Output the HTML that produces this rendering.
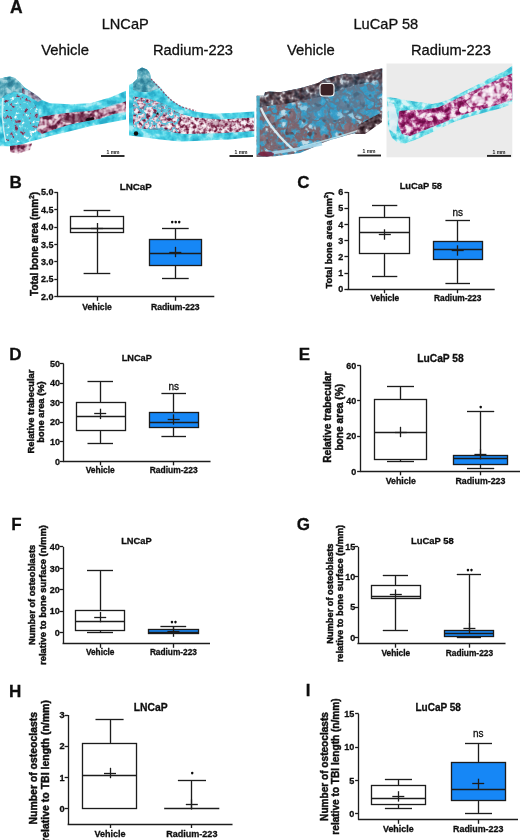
<!DOCTYPE html>
<html><head><meta charset="utf-8"><title>Figure</title>
<style>html,body{margin:0;padding:0;background:#fff;} svg{display:block;}</style>
</head><body>
<svg width="520" height="840" viewBox="0 0 520 840" font-family="Liberation Sans, Arial, sans-serif" fill="#111"><text x="9.90" y="13.10" font-size="17.5" font-weight="bold" text-anchor="start" stroke="#111" stroke-width="0.3" >A</text>
<text x="101.70" y="28.50" font-size="14.6" font-weight="normal" text-anchor="start" stroke="#111" stroke-width="0.3" >LNCaP</text>
<text x="353.50" y="28.50" font-size="14.6" font-weight="normal" text-anchor="start" stroke="#111" stroke-width="0.3" >LuCaP 58</text>
<text x="41.30" y="54.50" font-size="14.8" font-weight="normal" text-anchor="start" stroke="#111" stroke-width="0.3" >Vehicle</text>
<text x="153.00" y="54.50" font-size="14.7" font-weight="normal" text-anchor="start" stroke="#111" stroke-width="0.3" >Radium-223</text>
<text x="287.00" y="54.50" font-size="14.8" font-weight="normal" text-anchor="start" stroke="#111" stroke-width="0.3" >Vehicle</text>
<text x="411.00" y="54.50" font-size="14.7" font-weight="normal" text-anchor="start" stroke="#111" stroke-width="0.3" >Radium-223</text>
<defs><filter id="sb" x="-5%" y="-5%" width="110%" height="110%"><feGaussianBlur stdDeviation="0.6"/></filter><filter id="bl4" x="-30%" y="-50%" width="160%" height="200%"><feGaussianBlur stdDeviation="5"/></filter><filter id="n2c" x="0" y="0" width="100%" height="100%" color-interpolation-filters="sRGB"><feTurbulence type="fractalNoise" baseFrequency="0.13" numOctaves="3" seed="51" result="n"/><feColorMatrix in="n" type="matrix" values="0 0 0 0 0.282  0 0 0 0 0.769  0 0 0 0 0.863  1 0 0 0 0" result="a"/><feComponentTransfer in="a" result="c"><feFuncA type="table" tableValues="0 0 0 0 0 0 0 0 0.2 0.7 1 0.7 0.2 0 0 0 0 0 0 0 0"/></feComponentTransfer><feComposite in="c" in2="SourceGraphic" operator="in"/></filter><filter id="fm4l" x="0" y="0" width="100%" height="100%" color-interpolation-filters="sRGB"><feTurbulence type="fractalNoise" baseFrequency="0.18" numOctaves="2" seed="44" result="n"/><feColorMatrix in="n" type="matrix" values="1 0 0 0 0  1 0 0 0 0  1 0 0 0 0  0 0 0 0 1" result="g"/><feComponentTransfer in="g" result="c"><feFuncR type="table" tableValues="0.604 0.604 0.604 0.604 0.604 0.671 0.769 0.838 0.902 0.932 0.960 0.977 0.988 0.988 0.988 0.988 0.988"/><feFuncG type="table" tableValues="0.165 0.165 0.165 0.165 0.165 0.301 0.501 0.655 0.800 0.855 0.908 0.946 0.973 0.973 0.973 0.973 0.973"/><feFuncB type="table" tableValues="0.416 0.416 0.416 0.416 0.416 0.517 0.666 0.776 0.878 0.913 0.945 0.966 0.980 0.980 0.980 0.980 0.980"/></feComponentTransfer><feComposite in="c" in2="SourceGraphic" operator="in"/></filter><filter id="n3" x="0" y="0" width="100%" height="100%" color-interpolation-filters="sRGB"><feTurbulence type="fractalNoise" baseFrequency="0.1" numOctaves="3" seed="31" result="n"/><feColorMatrix in="n" type="matrix" values="0 0 0 0 0.494  0 0 0 0 0.384  0 0 0 0 0.416  1 0 0 0 0" result="a"/><feComponentTransfer in="a" result="c"><feFuncA type="table" tableValues="0 0 0 0 0 0 0 0 0.35 0.85 1 0.85 0.35 0 0 0 0 0 0 0 0"/></feComponentTransfer><feComposite in="c" in2="SourceGraphic" operator="in"/></filter><filter id="n3b" x="0" y="0" width="100%" height="100%" color-interpolation-filters="sRGB"><feTurbulence type="fractalNoise" baseFrequency="0.13" numOctaves="2" seed="37" result="n"/><feColorMatrix in="n" type="matrix" values="0 0 0 0 0.369  0 0 0 0 0.275  0 0 0 0 0.306  1 0 0 0 0" result="a"/><feComponentTransfer in="a" result="c"><feFuncA type="table" tableValues="1 1 1 1 1 0.8 0.4 0 0 0 0 0 0 0 0 0 0 0 0 0 0"/></feComponentTransfer><feComposite in="c" in2="SourceGraphic" operator="in"/></filter><filter id="fepi" x="0" y="0" width="100%" height="100%" color-interpolation-filters="sRGB"><feTurbulence type="fractalNoise" baseFrequency="0.2" numOctaves="3" seed="21" result="n"/><feColorMatrix in="n" type="matrix" values="1 0 0 0 0  1 0 0 0 0  1 0 0 0 0  0 0 0 0 1" result="g"/><feComponentTransfer in="g" result="c"><feFuncR type="table" tableValues="0.416 0.416 0.416 0.416 0.486 0.559 0.332 0.302 0.298 0.313 0.374 0.637 0.884 1.000 1.000 1.000 1.000"/><feFuncG type="table" tableValues="0.165 0.165 0.165 0.165 0.235 0.419 0.750 0.782 0.784 0.793 0.822 0.895 0.966 1.000 1.000 1.000 1.000"/><feFuncB type="table" tableValues="0.290 0.290 0.290 0.290 0.361 0.538 0.839 0.868 0.871 0.875 0.890 0.933 0.978 1.000 1.000 1.000 1.000"/></feComponentTransfer><feComposite in="c" in2="SourceGraphic" operator="in"/></filter><filter id="fcy" x="0" y="0" width="100%" height="100%" color-interpolation-filters="sRGB"><feTurbulence type="fractalNoise" baseFrequency="0.12" numOctaves="3" seed="3" result="n"/><feColorMatrix in="n" type="matrix" values="1 0 0 0 0  1 0 0 0 0  1 0 0 0 0  0 0 0 0 1" result="g"/><feComponentTransfer in="g" result="c"><feFuncR type="table" tableValues="0.165 0.165 0.165 0.165 0.165 0.174 0.218 0.256 0.290 0.349 0.453 0.625 0.659 0.659 0.659 0.659 0.659"/><feFuncG type="table" tableValues="0.682 0.682 0.682 0.682 0.682 0.693 0.747 0.786 0.816 0.840 0.873 0.917 0.925 0.925 0.925 0.925 0.925"/><feFuncB type="table" tableValues="0.796 0.796 0.796 0.796 0.796 0.804 0.846 0.875 0.894 0.909 0.927 0.952 0.957 0.957 0.957 0.957 0.957"/></feComponentTransfer><feComposite in="c" in2="SourceGraphic" operator="in"/></filter><filter id="fcy4" x="0" y="0" width="100%" height="100%" color-interpolation-filters="sRGB"><feTurbulence type="fractalNoise" baseFrequency="0.15" numOctaves="3" seed="5" result="n"/><feColorMatrix in="n" type="matrix" values="1 0 0 0 0  1 0 0 0 0  1 0 0 0 0  0 0 0 0 1" result="g"/><feComponentTransfer in="g" result="c"><feFuncR type="table" tableValues="0.235 0.235 0.235 0.235 0.235 0.250 0.324 0.388 0.447 0.579 0.706 0.824 0.847 0.847 0.847 0.847 0.847"/><feFuncG type="table" tableValues="0.737 0.737 0.737 0.737 0.737 0.750 0.814 0.854 0.878 0.908 0.933 0.953 0.957 0.957 0.957 0.957 0.957"/><feFuncB type="table" tableValues="0.831 0.831 0.831 0.831 0.831 0.839 0.878 0.900 0.910 0.934 0.953 0.963 0.965 0.965 0.965 0.965 0.965"/></feComponentTransfer><feComposite in="c" in2="SourceGraphic" operator="in"/></filter><filter id="fdome" x="0" y="0" width="100%" height="100%" color-interpolation-filters="sRGB"><feTurbulence type="fractalNoise" baseFrequency="0.15" numOctaves="3" seed="9" result="n"/><feColorMatrix in="n" type="matrix" values="1 0 0 0 0  1 0 0 0 0  1 0 0 0 0  0 0 0 0 1" result="g"/><feComponentTransfer in="g" result="c"><feFuncR type="table" tableValues="0.184 0.184 0.184 0.184 0.184 0.194 0.241 0.288 0.344 0.400 0.494 0.602 0.659 0.659 0.659 0.659 0.659"/><feFuncG type="table" tableValues="0.498 0.498 0.498 0.498 0.498 0.509 0.561 0.614 0.654 0.695 0.746 0.802 0.831 0.831 0.831 0.831 0.831"/><feFuncB type="table" tableValues="0.596 0.596 0.596 0.596 0.596 0.605 0.651 0.696 0.728 0.760 0.801 0.847 0.871 0.871 0.871 0.871 0.871"/></feComponentTransfer><feComposite in="c" in2="SourceGraphic" operator="in"/></filter><filter id="fm1" x="0" y="0" width="100%" height="100%" color-interpolation-filters="sRGB"><feTurbulence type="fractalNoise" baseFrequency="0.2" numOctaves="2" seed="4" result="n"/><feColorMatrix in="n" type="matrix" values="1 0 0 0 0  1 0 0 0 0  1 0 0 0 0  0 0 0 0 1" result="g"/><feComponentTransfer in="g" result="c"><feFuncR type="table" tableValues="0.353 0.353 0.353 0.353 0.353 0.376 0.494 0.597 0.690 0.778 0.855 0.914 0.925 0.925 0.925 0.925 0.925"/><feFuncG type="table" tableValues="0.102 0.102 0.102 0.102 0.102 0.120 0.208 0.328 0.471 0.608 0.733 0.841 0.863 0.863 0.863 0.863 0.863"/><feFuncB type="table" tableValues="0.220 0.220 0.220 0.220 0.220 0.239 0.337 0.450 0.573 0.690 0.794 0.877 0.894 0.894 0.894 0.894 0.894"/></feComponentTransfer><feComposite in="c" in2="SourceGraphic" operator="in"/></filter><filter id="fm2" x="0" y="0" width="100%" height="100%" color-interpolation-filters="sRGB"><feTurbulence type="fractalNoise" baseFrequency="0.28" numOctaves="2" seed="6" result="n"/><feColorMatrix in="n" type="matrix" values="1 0 0 0 0  1 0 0 0 0  1 0 0 0 0  0 0 0 0 1" result="g"/><feComponentTransfer in="g" result="c"><feFuncR type="table" tableValues="0.416 0.416 0.416 0.416 0.416 0.494 0.586 0.699 0.804 0.895 0.939 0.969 0.988 0.988 0.988 0.988 0.988"/><feFuncG type="table" tableValues="0.110 0.110 0.110 0.110 0.110 0.183 0.296 0.468 0.643 0.801 0.884 0.938 0.973 0.973 0.973 0.973 0.973"/><feFuncB type="table" tableValues="0.235 0.235 0.235 0.235 0.235 0.309 0.414 0.566 0.714 0.845 0.914 0.956 0.980 0.980 0.980 0.980 0.980"/></feComponentTransfer><feComposite in="c" in2="SourceGraphic" operator="in"/></filter><filter id="fm3" x="0" y="0" width="100%" height="100%" color-interpolation-filters="sRGB"><feTurbulence type="fractalNoise" baseFrequency="0.09" numOctaves="4" seed="8" result="n"/><feColorMatrix in="n" type="matrix" values="1 0 0 0 0  1 0 0 0 0  1 0 0 0 0  0 0 0 0 1" result="g"/><feComponentTransfer in="g" result="c"><feFuncR type="table" tableValues="0.549 0.549 0.549 0.549 0.549 0.520 0.357 0.218 0.231 0.277 0.425 0.695 0.753 0.753 0.753 0.753 0.753"/><feFuncG type="table" tableValues="0.439 0.439 0.439 0.439 0.439 0.475 0.606 0.599 0.608 0.654 0.704 0.832 0.863 0.863 0.863 0.863 0.863"/><feFuncB type="table" tableValues="0.471 0.471 0.471 0.471 0.471 0.522 0.725 0.762 0.769 0.803 0.826 0.893 0.910 0.910 0.910 0.910 0.910"/></feComponentTransfer><feComposite in="c" in2="SourceGraphic" operator="in"/></filter><filter id="fm3t" x="0" y="0" width="100%" height="100%" color-interpolation-filters="sRGB"><feTurbulence type="fractalNoise" baseFrequency="0.2" numOctaves="2" seed="12" result="n"/><feColorMatrix in="n" type="matrix" values="1 0 0 0 0  1 0 0 0 0  1 0 0 0 0  0 0 0 0 1" result="g"/><feComponentTransfer in="g" result="c"><feFuncR type="table" tableValues="0.141 0.141 0.141 0.141 0.141 0.195 0.247 0.296 0.353 0.418 0.506 0.668 0.878 0.878 0.878 0.878 0.878"/><feFuncG type="table" tableValues="0.086 0.086 0.086 0.086 0.086 0.125 0.169 0.218 0.275 0.341 0.439 0.620 0.855 0.855 0.855 0.855 0.855"/><feFuncB type="table" tableValues="0.110 0.110 0.110 0.110 0.110 0.154 0.200 0.249 0.306 0.372 0.465 0.637 0.863 0.863 0.863 0.863 0.863"/></feComponentTransfer><feComposite in="c" in2="SourceGraphic" operator="in"/></filter><filter id="fm4" x="0" y="0" width="100%" height="100%" color-interpolation-filters="sRGB"><feTurbulence type="fractalNoise" baseFrequency="0.16" numOctaves="3" seed="14" result="n"/><feColorMatrix in="n" type="matrix" values="1 0 0 0 0  1 0 0 0 0  1 0 0 0 0  0 0 0 0 1" result="g"/><feComponentTransfer in="g" result="c"><feFuncR type="table" tableValues="0.416 0.416 0.416 0.416 0.416 0.474 0.556 0.625 0.698 0.778 0.874 0.936 0.973 0.973 0.973 0.973 0.973"/><feFuncG type="table" tableValues="0.047 0.047 0.047 0.047 0.047 0.072 0.116 0.186 0.322 0.495 0.709 0.850 0.933 0.933 0.933 0.933 0.933"/><feFuncB type="table" tableValues="0.267 0.267 0.267 0.267 0.267 0.314 0.384 0.459 0.561 0.680 0.818 0.906 0.957 0.957 0.957 0.957 0.957"/></feComponentTransfer><feComposite in="c" in2="SourceGraphic" operator="in"/></filter></defs><g filter="url(#sb)"><polygon points="0.0,78.8 5.0,77.2 10.0,76.5 15.0,78.0 20.0,82.5 24.0,87.0 30.0,91.0 37.0,95.6 42.0,100.0 50.0,103.3 70.0,104.2 90.0,103.3 110.0,97.5 126.0,90.8 126.0,119.6 110.0,122.5 90.0,126.3 70.0,131.2 50.0,136.0 40.0,139.0 30.0,141.5 20.0,145.0 10.0,146.2 0.0,146.2" fill="#000" filter="url(#fcy)" /><polygon points="0.0,78.8 5.0,77.2 10.0,76.5 15.0,78.0 20.0,82.5 24.0,87.0 22.0,93.0 14.0,92.0 6.0,95.0 0.0,99.0" fill="#000" filter="url(#fdome)" /><path d="M3,98 Q1,118 6,142" stroke="#d8f2f6" stroke-width="1.8" fill="none" opacity="0.9"/><polygon points="34.0,119.0 45.0,116.0 60.0,113.8 75.0,111.9 90.0,111.0 100.0,109.0 115.0,105.2 126.0,101.3 126.0,111.9 115.0,113.8 100.0,118.7 85.0,121.5 70.0,124.4 55.0,129.2 42.0,134.0 34.0,129.0" fill="#000" filter="url(#fm1)" /><ellipse cx="76" cy="118" rx="15" ry="4.2" transform="rotate(-8 76 118)" fill="#5a1c36" opacity="0.55"/><ellipse cx="113" cy="108" rx="13" ry="3.5" transform="rotate(-18 113 108)" fill="#f0dce6" opacity="0.45"/><ellipse cx="90" cy="119" rx="4.5" ry="1.5" transform="rotate(-12 90 119)" fill="#1a0a12"/><polygon points="4.0,98.0 12.0,94.0 22.0,95.0 32.0,100.0 38.0,110.0 40.0,120.0 36.0,132.0 28.0,140.0 14.0,143.0 6.0,140.0 3.0,120.0" fill="#000" filter="url(#fepi)" /><polygon points="22.0,88.0 30.0,91.0 37.0,95.6 42.0,100.0 38.0,102.0 28.0,96.0 22.0,93.0" fill="#000" filter="url(#fm1)" opacity="0.7"/><polygon points="10.0,146.0 22.0,144.5 32.0,143.5 30.0,150.0 18.0,153.5 10.0,152.0" fill="#000" filter="url(#fm1)" /><line x1="101" y1="156" x2="124.5" y2="156" stroke="#222" stroke-width="1.9"/><text x="113" y="153.7" font-size="5" font-weight="bold" text-anchor="middle" fill="#222">1 mm</text><polygon points="129.0,85.0 133.0,83.0 137.0,79.0 137.5,70.0 142.0,67.4 147.0,69.4 150.0,73.5 151.0,78.8 155.0,82.9 160.0,86.9 165.0,93.6 172.0,100.4 180.0,105.8 190.0,109.8 195.0,111.6 210.0,113.8 230.0,113.0 254.3,111.6 254.3,136.8 230.0,139.5 220.0,139.7 195.0,141.0 180.0,141.4 160.0,139.4 140.0,136.7 129.0,135.4" fill="#000" filter="url(#fcy)" /><polygon points="133.0,83.0 137.0,79.0 137.5,70.0 142.0,67.4 147.0,69.4 150.0,73.5 151.0,78.8 155.0,82.9 160.0,88.0 150.0,92.0 140.0,92.0 133.0,90.0" fill="#000" filter="url(#fdome)" /><polygon points="133.0,96.3 150.0,99.0 165.0,104.4 180.0,113.8 195.0,117.5 220.0,119.5 254.3,117.4 254.3,131.0 220.0,133.2 185.0,134.0 180.0,133.4 160.0,130.0 140.0,128.6 133.0,127.3" fill="#000" filter="url(#fm2)" /><ellipse cx="222" cy="124" rx="14" ry="3.5" fill="#7a3454" opacity="0.35"/><polygon points="133.0,96.3 150.0,99.0 165.0,104.4 180.0,113.8 178.0,133.0 160.0,130.0 140.0,128.6 133.0,127.3" fill="#000" filter="url(#n2c)" /><path d="M151,79 Q158,86 165,94 T182,107 L196,111" stroke="#8a3a5a" stroke-width="1.3" fill="none" stroke-dasharray="2 1.5" opacity="0.8"/><circle cx="136" cy="133.5" r="2.2" fill="#111"/><circle cx="157.5" cy="113.7" r="1.1" fill="#111"/><line x1="229.5" y1="156" x2="253" y2="156" stroke="#222" stroke-width="1.9"/><text x="241" y="153.7" font-size="5" font-weight="bold" text-anchor="middle" fill="#222">1 mm</text><polygon points="256.7,95.7 264.0,95.7 265.0,92.3 270.0,91.6 280.0,92.3 290.0,90.3 300.0,88.3 310.0,85.6 318.0,82.9 325.1,78.8 335.2,75.9 345.3,73.7 355.4,74.4 365.5,72.3 375.6,69.4 382.2,68.5 382.2,117.7 370.0,127.8 360.0,132.2 350.0,134.3 340.0,137.2 330.0,140.1 320.0,143.7 315.0,146.6 300.0,152.9 290.0,154.2 275.0,156.2 256.7,156.9" fill="#000" filter="url(#fm3)" /><polygon points="256.7,95.7 264.0,95.7 265.0,92.3 270.0,91.6 280.0,92.3 290.0,90.3 300.0,88.3 310.0,85.6 318.0,82.9 325.1,78.8 335.2,75.9 345.3,73.7 355.4,74.4 365.5,72.3 375.6,69.4 382.2,68.5 382.2,117.7 370.0,127.8 360.0,132.2 350.0,134.3 340.0,137.2 330.0,140.1 320.0,143.7 315.0,146.6 300.0,152.9 290.0,154.2 275.0,156.2 256.7,156.9" fill="#000" filter="url(#n3)" /><polygon points="256.7,95.7 264.0,95.7 265.0,92.3 270.0,91.6 280.0,92.3 290.0,90.3 300.0,88.3 310.0,85.6 318.0,82.9 325.1,78.8 335.2,75.9 345.3,73.7 355.4,74.4 365.5,72.3 375.6,69.4 382.2,68.5 382.2,117.7 370.0,127.8 360.0,132.2 350.0,134.3 340.0,137.2 330.0,140.1 320.0,143.7 315.0,146.6 300.0,152.9 290.0,154.2 275.0,156.2 256.7,156.9" fill="#000" filter="url(#n3b)" /><polygon points="256.7,95.7 264.0,95.7 265.0,92.3 270.0,91.6 280.0,92.3 290.0,90.3 300.0,88.3 310.0,85.6 318.0,82.9 325.1,78.8 335.2,75.9 345.3,73.7 355.4,74.4 365.5,72.3 375.6,69.4 382.2,68.5 382.2,79.0 365.0,83.0 345.0,88.0 330.0,94.0 315.0,98.0 300.0,101.0 285.0,104.0 270.0,106.0 258.0,107.0" fill="#000" filter="url(#fm3t)" opacity="0.85"/><clipPath id="c3"><polygon points="256.7,95.7 264.0,95.7 265.0,92.3 270.0,91.6 280.0,92.3 290.0,90.3 300.0,88.3 310.0,85.6 318.0,82.9 325.1,78.8 335.2,75.9 345.3,73.7 355.4,74.4 365.5,72.3 375.6,69.4 382.2,68.5 382.2,117.7 370.0,127.8 360.0,132.2 350.0,134.3 340.0,137.2 330.0,140.1 320.0,143.7 315.0,146.6 300.0,152.9 290.0,154.2 275.0,156.2 256.7,156.9"/></clipPath><g clip-path="url(#c3)"><ellipse cx="342" cy="103" rx="46" ry="17" transform="rotate(-16 342 103)" fill="#2e9ccc" opacity="0.4" filter="url(#bl4)"/></g><rect x="256.7" y="96" width="3" height="58" fill="#48c0e0" opacity="0.8"/><rect x="320" y="83.5" width="14" height="12.5" rx="3" fill="#3a2026" stroke="#f4f4f4" stroke-width="1.1"/><path d="M261,108 Q270,130 296,152" stroke="#e4f4f8" stroke-width="2.2" fill="none" opacity="0.9"/><path d="M300,147 Q330,140 372,126" stroke="#c8e8f0" stroke-width="1.6" fill="none" opacity="0.8"/><path d="M272,153 Q295,150 322,144" stroke="#a8d8ec" stroke-width="3" fill="none" opacity="0.9"/><ellipse cx="266" cy="154" rx="8" ry="2.5" fill="#7a2040" opacity="0.85"/><polygon points="360.0,124.0 382.0,112.0 382.0,122.0 365.0,134.0 355.0,134.0" fill="#000" filter="url(#fm3t)" /><line x1="357.5" y1="155.5" x2="381" y2="155.5" stroke="#222" stroke-width="1.9"/><text x="369" y="153.2" font-size="5" font-weight="bold" text-anchor="middle" fill="#222">1 mm</text><rect x="386.5" y="63.5" width="125.8" height="93.8" fill="#ebebeb"/><polygon points="387.0,97.0 395.0,98.0 405.0,100.0 415.0,101.5 425.0,103.0 432.0,104.0 440.0,102.5 450.0,99.0 460.0,93.5 475.0,86.0 490.0,78.0 505.0,71.0 512.2,65.8 512.2,104.0 500.0,108.5 485.0,112.5 470.0,116.5 455.0,121.5 445.0,126.0 435.0,131.0 425.0,135.5 415.0,140.0 405.0,143.5 398.0,143.0 392.0,138.0 388.0,128.0" fill="#000" filter="url(#fcy4)" /><polygon points="399.0,111.0 410.0,110.0 425.0,109.5 438.0,107.5 448.0,103.0 460.0,97.0 475.0,90.0 490.0,83.0 505.0,76.5 512.2,73.5 512.2,100.0 500.0,104.0 485.0,108.5 470.0,112.5 455.0,117.5 445.0,122.0 432.0,127.0 420.0,132.0 410.0,136.0 402.0,134.0 398.0,125.0" fill="#000" filter="url(#fm4)" /><polygon points="466.0,102.0 474.0,94.0 486.0,88.0 498.0,83.0 508.0,80.0 510.0,88.0 504.0,96.0 494.0,101.0 482.0,105.0 470.0,107.0" fill="#000" filter="url(#fm4l)" /><ellipse cx="463" cy="110" rx="4" ry="3" fill="#f6eef2"/><ellipse cx="430" cy="119" rx="3" ry="2" fill="#f6eef2" opacity="0.8"/><polygon points="388.0,102.0 394.0,104.0 398.0,118.0 396.0,134.0 390.0,130.0" fill="#e6eef4" opacity="0.85"/><line x1="487" y1="155.9" x2="511" y2="155.9" stroke="#222" stroke-width="1.9"/><text x="499" y="153.6" font-size="5" font-weight="bold" text-anchor="middle" fill="#222">1 mm</text></g>
<defs><filter id="gb" x="0" y="0" width="100%" height="100%" filterUnits="userSpaceOnUse"><feGaussianBlur stdDeviation="0.3"/></filter></defs><g filter="url(#gb)">
<text x="9.60" y="188.40" font-size="17" font-weight="bold" text-anchor="start" stroke="#111" stroke-width="0.3" >B</text>
<text x="135.80" y="190.20" font-size="9.8" font-weight="bold" text-anchor="middle" stroke="#111" stroke-width="0.3" >LNCaP</text>
<line x1="57.50" y1="192.20" x2="57.50" y2="296.80" stroke="#1c1c1c" stroke-width="1.3"/>
<line x1="57.30" y1="296.50" x2="214.30" y2="296.50" stroke="#1c1c1c" stroke-width="1.3"/>
<line x1="54.30" y1="296.50" x2="57.90" y2="296.50" stroke="#1c1c1c" stroke-width="1.3"/>
<text x="53.60" y="299.84" font-size="9" font-weight="bold" text-anchor="end" stroke="#111" stroke-width="0.3" >2.0</text>
<line x1="54.30" y1="279.50" x2="57.90" y2="279.50" stroke="#1c1c1c" stroke-width="1.3"/>
<text x="53.60" y="282.44" font-size="9" font-weight="bold" text-anchor="end" stroke="#111" stroke-width="0.3" >2.5</text>
<line x1="54.30" y1="261.50" x2="57.90" y2="261.50" stroke="#1c1c1c" stroke-width="1.3"/>
<text x="53.60" y="265.04" font-size="9" font-weight="bold" text-anchor="end" stroke="#111" stroke-width="0.3" >3.0</text>
<line x1="54.30" y1="244.50" x2="57.90" y2="244.50" stroke="#1c1c1c" stroke-width="1.3"/>
<text x="53.60" y="247.64" font-size="9" font-weight="bold" text-anchor="end" stroke="#111" stroke-width="0.3" >3.5</text>
<line x1="54.30" y1="227.50" x2="57.90" y2="227.50" stroke="#1c1c1c" stroke-width="1.3"/>
<text x="53.60" y="230.24" font-size="9" font-weight="bold" text-anchor="end" stroke="#111" stroke-width="0.3" >4.0</text>
<line x1="54.30" y1="209.50" x2="57.90" y2="209.50" stroke="#1c1c1c" stroke-width="1.3"/>
<text x="53.60" y="212.84" font-size="9" font-weight="bold" text-anchor="end" stroke="#111" stroke-width="0.3" >4.5</text>
<line x1="54.30" y1="192.50" x2="57.90" y2="192.50" stroke="#1c1c1c" stroke-width="1.3"/>
<text x="53.60" y="195.44" font-size="9" font-weight="bold" text-anchor="end" stroke="#111" stroke-width="0.3" >5.0</text>
<line x1="97.50" y1="296.80" x2="97.50" y2="300.80" stroke="#1c1c1c" stroke-width="1.3"/>
<text x="97.00" y="309.50" font-size="8.6" font-weight="bold" text-anchor="middle" stroke="#111" stroke-width="0.3" >Vehicle</text>
<line x1="175.50" y1="296.80" x2="175.50" y2="300.80" stroke="#1c1c1c" stroke-width="1.3"/>
<text x="175.30" y="309.50" font-size="8.6" font-weight="bold" text-anchor="middle" stroke="#111" stroke-width="0.3" >Radium-223</text>
<line x1="97.50" y1="210.50" x2="97.50" y2="216.20" stroke="#1c1c1c" stroke-width="1.3"/>
<line x1="83.60" y1="210.50" x2="110.30" y2="210.50" stroke="#1c1c1c" stroke-width="1.3"/>
<line x1="97.50" y1="232.30" x2="97.50" y2="273.00" stroke="#1c1c1c" stroke-width="1.3"/>
<line x1="83.60" y1="273.50" x2="110.30" y2="273.50" stroke="#1c1c1c" stroke-width="1.3"/>
<rect x="70.50" y="216.50" width="53.00" height="16.00" fill="#ffffff" stroke="#1c1c1c" stroke-width="1.3"/>
<line x1="70.70" y1="228.50" x2="123.20" y2="228.50" stroke="#1c1c1c" stroke-width="1.3"/>
<line x1="91.00" y1="228.50" x2="103.00" y2="228.50" stroke="#1c1c1c" stroke-width="1.3"/>
<line x1="97.50" y1="223.00" x2="97.50" y2="233.40" stroke="#1c1c1c" stroke-width="1.3"/>
<line x1="175.50" y1="228.60" x2="175.50" y2="239.30" stroke="#1c1c1c" stroke-width="1.3"/>
<line x1="162.00" y1="228.50" x2="188.70" y2="228.50" stroke="#1c1c1c" stroke-width="1.3"/>
<line x1="175.50" y1="265.60" x2="175.50" y2="278.80" stroke="#1c1c1c" stroke-width="1.3"/>
<line x1="162.00" y1="278.50" x2="188.70" y2="278.50" stroke="#1c1c1c" stroke-width="1.3"/>
<rect x="149.50" y="239.50" width="52.00" height="26.00" fill="#1987f6" stroke="#1c1c1c" stroke-width="1.3"/>
<line x1="149.40" y1="253.50" x2="201.50" y2="253.50" stroke="#1c1c1c" stroke-width="1.3"/>
<line x1="169.30" y1="252.50" x2="181.30" y2="252.50" stroke="#1c1c1c" stroke-width="1.3"/>
<line x1="175.50" y1="246.80" x2="175.50" y2="257.20" stroke="#1c1c1c" stroke-width="1.3"/>
<text x="176.50" y="225.00" font-size="5" font-weight="bold" text-anchor="middle" stroke="#111" stroke-width="0.65" stroke-linejoin="round" letter-spacing="1.6">***</text>
<text transform="translate(38.30,243.90) rotate(-90)" x="0" y="0" font-size="10" font-weight="bold" text-anchor="middle" stroke="#111" stroke-width="0.45">Total bone area (mm<tspan font-size="65%" dy="-4">2</tspan><tspan dy="4">)</tspan></text>
<text x="297.20" y="188.30" font-size="17" font-weight="bold" text-anchor="start" stroke="#111" stroke-width="0.3" >C</text>
<text x="420.85" y="189.10" font-size="9.35" font-weight="bold" text-anchor="middle" stroke="#111" stroke-width="0.3" >LuCaP 58</text>
<line x1="348.50" y1="192.00" x2="348.50" y2="289.20" stroke="#1c1c1c" stroke-width="1.3"/>
<line x1="347.40" y1="289.50" x2="494.70" y2="289.50" stroke="#1c1c1c" stroke-width="1.3"/>
<line x1="344.40" y1="289.50" x2="348.00" y2="289.50" stroke="#1c1c1c" stroke-width="1.3"/>
<text x="343.30" y="292.44" font-size="9" font-weight="bold" text-anchor="end" stroke="#111" stroke-width="0.3" >0</text>
<line x1="344.40" y1="273.50" x2="348.00" y2="273.50" stroke="#1c1c1c" stroke-width="1.3"/>
<text x="343.30" y="276.24" font-size="9" font-weight="bold" text-anchor="end" stroke="#111" stroke-width="0.3" >1</text>
<line x1="344.40" y1="256.50" x2="348.00" y2="256.50" stroke="#1c1c1c" stroke-width="1.3"/>
<text x="343.30" y="260.04" font-size="9" font-weight="bold" text-anchor="end" stroke="#111" stroke-width="0.3" >2</text>
<line x1="344.40" y1="240.50" x2="348.00" y2="240.50" stroke="#1c1c1c" stroke-width="1.3"/>
<text x="343.30" y="243.84" font-size="9" font-weight="bold" text-anchor="end" stroke="#111" stroke-width="0.3" >3</text>
<line x1="344.40" y1="224.50" x2="348.00" y2="224.50" stroke="#1c1c1c" stroke-width="1.3"/>
<text x="343.30" y="227.64" font-size="9" font-weight="bold" text-anchor="end" stroke="#111" stroke-width="0.3" >4</text>
<line x1="344.40" y1="208.50" x2="348.00" y2="208.50" stroke="#1c1c1c" stroke-width="1.3"/>
<text x="343.30" y="211.44" font-size="9" font-weight="bold" text-anchor="end" stroke="#111" stroke-width="0.3" >5</text>
<line x1="344.40" y1="192.50" x2="348.00" y2="192.50" stroke="#1c1c1c" stroke-width="1.3"/>
<text x="343.30" y="195.24" font-size="9" font-weight="bold" text-anchor="end" stroke="#111" stroke-width="0.3" >6</text>
<line x1="384.50" y1="289.20" x2="384.50" y2="293.20" stroke="#1c1c1c" stroke-width="1.3"/>
<text x="384.80" y="301.30" font-size="8.35" font-weight="bold" text-anchor="middle" stroke="#111" stroke-width="0.3" >Vehicle</text>
<line x1="457.50" y1="289.20" x2="457.50" y2="293.20" stroke="#1c1c1c" stroke-width="1.3"/>
<text x="457.70" y="301.30" font-size="8.35" font-weight="bold" text-anchor="middle" stroke="#111" stroke-width="0.3" >Radium-223</text>
<line x1="384.50" y1="205.80" x2="384.50" y2="217.20" stroke="#1c1c1c" stroke-width="1.3"/>
<line x1="372.00" y1="205.50" x2="397.30" y2="205.50" stroke="#1c1c1c" stroke-width="1.3"/>
<line x1="384.50" y1="253.80" x2="384.50" y2="276.00" stroke="#1c1c1c" stroke-width="1.3"/>
<line x1="372.00" y1="276.50" x2="397.30" y2="276.50" stroke="#1c1c1c" stroke-width="1.3"/>
<rect x="359.50" y="217.50" width="50.00" height="36.00" fill="#ffffff" stroke="#1c1c1c" stroke-width="1.3"/>
<line x1="359.60" y1="232.50" x2="409.40" y2="232.50" stroke="#1c1c1c" stroke-width="1.3"/>
<line x1="378.80" y1="234.50" x2="390.80" y2="234.50" stroke="#1c1c1c" stroke-width="1.3"/>
<line x1="384.50" y1="229.30" x2="384.50" y2="239.70" stroke="#1c1c1c" stroke-width="1.3"/>
<line x1="457.50" y1="220.30" x2="457.50" y2="241.50" stroke="#1c1c1c" stroke-width="1.3"/>
<line x1="445.40" y1="220.50" x2="470.00" y2="220.50" stroke="#1c1c1c" stroke-width="1.3"/>
<line x1="457.50" y1="259.00" x2="457.50" y2="283.00" stroke="#1c1c1c" stroke-width="1.3"/>
<line x1="445.40" y1="283.50" x2="470.00" y2="283.50" stroke="#1c1c1c" stroke-width="1.3"/>
<rect x="433.50" y="241.50" width="49.00" height="18.00" fill="#1987f6" stroke="#1c1c1c" stroke-width="1.3"/>
<line x1="433.40" y1="249.50" x2="482.60" y2="249.50" stroke="#1c1c1c" stroke-width="1.3"/>
<line x1="451.70" y1="250.50" x2="463.70" y2="250.50" stroke="#1c1c1c" stroke-width="1.3"/>
<line x1="457.50" y1="245.30" x2="457.50" y2="255.70" stroke="#1c1c1c" stroke-width="1.3"/>
<text x="457.70" y="216.00" font-size="10" font-weight="normal" text-anchor="middle" stroke="#111" stroke-width="0.3" >ns</text>
<text transform="translate(331.80,240.10) rotate(-90)" x="0" y="0" font-size="9.3" font-weight="bold" text-anchor="middle" stroke="#111" stroke-width="0.45">Total bone area (mm<tspan font-size="65%" dy="-4">2</tspan><tspan dy="4">)</tspan></text>
<text x="9.30" y="360.30" font-size="17" font-weight="bold" text-anchor="start" stroke="#111" stroke-width="0.3" >D</text>
<text x="136.80" y="361.10" font-size="9.2" font-weight="bold" text-anchor="middle" stroke="#111" stroke-width="0.3" >LNCaP</text>
<line x1="63.50" y1="363.60" x2="63.50" y2="461.30" stroke="#1c1c1c" stroke-width="1.3"/>
<line x1="63.00" y1="461.50" x2="210.50" y2="461.50" stroke="#1c1c1c" stroke-width="1.3"/>
<line x1="60.00" y1="461.50" x2="63.60" y2="461.50" stroke="#1c1c1c" stroke-width="1.3"/>
<text x="60.00" y="464.54" font-size="9" font-weight="bold" text-anchor="end" stroke="#111" stroke-width="0.3" >0</text>
<line x1="60.00" y1="441.50" x2="63.60" y2="441.50" stroke="#1c1c1c" stroke-width="1.3"/>
<text x="60.00" y="445.00" font-size="9" font-weight="bold" text-anchor="end" stroke="#111" stroke-width="0.3" >10</text>
<line x1="60.00" y1="422.50" x2="63.60" y2="422.50" stroke="#1c1c1c" stroke-width="1.3"/>
<text x="60.00" y="425.46" font-size="9" font-weight="bold" text-anchor="end" stroke="#111" stroke-width="0.3" >20</text>
<line x1="60.00" y1="402.50" x2="63.60" y2="402.50" stroke="#1c1c1c" stroke-width="1.3"/>
<text x="60.00" y="405.92" font-size="9" font-weight="bold" text-anchor="end" stroke="#111" stroke-width="0.3" >30</text>
<line x1="60.00" y1="383.50" x2="63.60" y2="383.50" stroke="#1c1c1c" stroke-width="1.3"/>
<text x="60.00" y="386.38" font-size="9" font-weight="bold" text-anchor="end" stroke="#111" stroke-width="0.3" >40</text>
<line x1="60.00" y1="363.50" x2="63.60" y2="363.50" stroke="#1c1c1c" stroke-width="1.3"/>
<text x="60.00" y="366.84" font-size="9" font-weight="bold" text-anchor="end" stroke="#111" stroke-width="0.3" >50</text>
<line x1="100.50" y1="461.30" x2="100.50" y2="465.30" stroke="#1c1c1c" stroke-width="1.3"/>
<text x="100.20" y="472.50" font-size="8.45" font-weight="bold" text-anchor="middle" stroke="#111" stroke-width="0.3" >Vehicle</text>
<line x1="173.50" y1="461.30" x2="173.50" y2="465.30" stroke="#1c1c1c" stroke-width="1.3"/>
<text x="173.70" y="472.50" font-size="8.45" font-weight="bold" text-anchor="middle" stroke="#111" stroke-width="0.3" >Radium-223</text>
<line x1="100.50" y1="381.90" x2="100.50" y2="402.20" stroke="#1c1c1c" stroke-width="1.3"/>
<line x1="87.50" y1="381.50" x2="113.00" y2="381.50" stroke="#1c1c1c" stroke-width="1.3"/>
<line x1="100.50" y1="430.20" x2="100.50" y2="443.50" stroke="#1c1c1c" stroke-width="1.3"/>
<line x1="87.50" y1="443.50" x2="113.00" y2="443.50" stroke="#1c1c1c" stroke-width="1.3"/>
<rect x="76.50" y="402.50" width="49.00" height="28.00" fill="#ffffff" stroke="#1c1c1c" stroke-width="1.3"/>
<line x1="76.20" y1="416.50" x2="125.40" y2="416.50" stroke="#1c1c1c" stroke-width="1.3"/>
<line x1="94.20" y1="413.50" x2="106.20" y2="413.50" stroke="#1c1c1c" stroke-width="1.3"/>
<line x1="100.50" y1="408.70" x2="100.50" y2="419.10" stroke="#1c1c1c" stroke-width="1.3"/>
<line x1="173.50" y1="393.30" x2="173.50" y2="412.00" stroke="#1c1c1c" stroke-width="1.3"/>
<line x1="161.40" y1="393.50" x2="186.00" y2="393.50" stroke="#1c1c1c" stroke-width="1.3"/>
<line x1="173.50" y1="427.20" x2="173.50" y2="436.00" stroke="#1c1c1c" stroke-width="1.3"/>
<line x1="161.40" y1="436.50" x2="186.00" y2="436.50" stroke="#1c1c1c" stroke-width="1.3"/>
<rect x="149.50" y="412.50" width="49.00" height="15.00" fill="#1987f6" stroke="#1c1c1c" stroke-width="1.3"/>
<line x1="149.00" y1="422.50" x2="198.30" y2="422.50" stroke="#1c1c1c" stroke-width="1.3"/>
<line x1="167.70" y1="419.50" x2="179.70" y2="419.50" stroke="#1c1c1c" stroke-width="1.3"/>
<line x1="173.50" y1="414.30" x2="173.50" y2="424.70" stroke="#1c1c1c" stroke-width="1.3"/>
<text x="173.70" y="389.50" font-size="10" font-weight="normal" text-anchor="middle" stroke="#111" stroke-width="0.3" >ns</text>
<text transform="translate(33.50,411.50) rotate(-90)" x="0" y="0" font-size="9.4" font-weight="bold" text-anchor="middle" stroke="#111" stroke-width="0.45">Relative trabecular</text>
<text transform="translate(43.50,412.00) rotate(-90)" x="0" y="0" font-size="9.4" font-weight="bold" text-anchor="middle" stroke="#111" stroke-width="0.45">bone area (%)</text>
<text x="298.80" y="360.30" font-size="17" font-weight="bold" text-anchor="start" stroke="#111" stroke-width="0.3" >E</text>
<text x="440.50" y="362.30" font-size="10.25" font-weight="bold" text-anchor="middle" stroke="#111" stroke-width="0.3" >LuCaP 58</text>
<line x1="360.50" y1="365.60" x2="360.50" y2="471.30" stroke="#1c1c1c" stroke-width="1.3"/>
<line x1="360.10" y1="471.50" x2="520.00" y2="471.50" stroke="#1c1c1c" stroke-width="1.3"/>
<line x1="357.10" y1="471.50" x2="360.70" y2="471.50" stroke="#1c1c1c" stroke-width="1.3"/>
<text x="356.30" y="474.54" font-size="9" font-weight="bold" text-anchor="end" stroke="#111" stroke-width="0.3" >0</text>
<line x1="357.10" y1="436.50" x2="360.70" y2="436.50" stroke="#1c1c1c" stroke-width="1.3"/>
<text x="356.30" y="439.31" font-size="9" font-weight="bold" text-anchor="end" stroke="#111" stroke-width="0.3" >20</text>
<line x1="357.10" y1="400.50" x2="360.70" y2="400.50" stroke="#1c1c1c" stroke-width="1.3"/>
<text x="356.30" y="404.07" font-size="9" font-weight="bold" text-anchor="end" stroke="#111" stroke-width="0.3" >40</text>
<line x1="357.10" y1="365.50" x2="360.70" y2="365.50" stroke="#1c1c1c" stroke-width="1.3"/>
<text x="356.30" y="368.84" font-size="9" font-weight="bold" text-anchor="end" stroke="#111" stroke-width="0.3" >60</text>
<line x1="400.50" y1="471.30" x2="400.50" y2="475.30" stroke="#1c1c1c" stroke-width="1.3"/>
<text x="400.80" y="484.20" font-size="8.8" font-weight="bold" text-anchor="middle" stroke="#111" stroke-width="0.3" >Vehicle</text>
<line x1="480.50" y1="471.30" x2="480.50" y2="475.30" stroke="#1c1c1c" stroke-width="1.3"/>
<text x="480.40" y="484.20" font-size="8.8" font-weight="bold" text-anchor="middle" stroke="#111" stroke-width="0.3" >Radium-223</text>
<line x1="400.50" y1="386.20" x2="400.50" y2="399.80" stroke="#1c1c1c" stroke-width="1.3"/>
<line x1="387.00" y1="386.50" x2="414.00" y2="386.50" stroke="#1c1c1c" stroke-width="1.3"/>
<line x1="400.50" y1="459.50" x2="400.50" y2="461.30" stroke="#1c1c1c" stroke-width="1.3"/>
<line x1="387.00" y1="461.50" x2="414.00" y2="461.50" stroke="#1c1c1c" stroke-width="1.3"/>
<rect x="374.50" y="399.50" width="52.00" height="60.00" fill="#ffffff" stroke="#1c1c1c" stroke-width="1.3"/>
<line x1="374.60" y1="432.50" x2="426.90" y2="432.50" stroke="#1c1c1c" stroke-width="1.3"/>
<line x1="394.80" y1="432.50" x2="406.80" y2="432.50" stroke="#1c1c1c" stroke-width="1.3"/>
<line x1="400.50" y1="426.80" x2="400.50" y2="437.20" stroke="#1c1c1c" stroke-width="1.3"/>
<line x1="480.50" y1="411.90" x2="480.50" y2="455.50" stroke="#1c1c1c" stroke-width="1.3"/>
<line x1="467.00" y1="411.50" x2="494.20" y2="411.50" stroke="#1c1c1c" stroke-width="1.3"/>
<line x1="480.50" y1="464.20" x2="480.50" y2="468.40" stroke="#1c1c1c" stroke-width="1.3"/>
<line x1="467.00" y1="468.50" x2="494.20" y2="468.50" stroke="#1c1c1c" stroke-width="1.3"/>
<rect x="453.50" y="455.50" width="54.00" height="9.00" fill="#1987f6" stroke="#1c1c1c" stroke-width="1.3"/>
<line x1="453.40" y1="458.50" x2="507.20" y2="458.50" stroke="#1c1c1c" stroke-width="1.3"/>
<line x1="474.40" y1="454.50" x2="486.40" y2="454.50" stroke="#1c1c1c" stroke-width="1.3"/>
<line x1="480.50" y1="449.00" x2="480.50" y2="459.40" stroke="#1c1c1c" stroke-width="1.3"/>
<text x="481.60" y="409.70" font-size="5" font-weight="bold" text-anchor="middle" stroke="#111" stroke-width="0.65" stroke-linejoin="round" letter-spacing="1.6">*</text>
<text transform="translate(330.50,417.20) rotate(-90)" x="0" y="0" font-size="10.2" font-weight="bold" text-anchor="middle" stroke="#111" stroke-width="0.45">Relative trabecular</text>
<text transform="translate(343.00,417.20) rotate(-90)" x="0" y="0" font-size="10.2" font-weight="bold" text-anchor="middle" stroke="#111" stroke-width="0.45">bone area (%)</text>
<text x="11.30" y="529.80" font-size="17" font-weight="bold" text-anchor="start" stroke="#111" stroke-width="0.3" >F</text>
<text x="136.40" y="543.70" font-size="9.3" font-weight="bold" text-anchor="middle" stroke="#111" stroke-width="0.3" >LNCaP</text>
<line x1="63.50" y1="546.90" x2="63.50" y2="643.80" stroke="#1c1c1c" stroke-width="1.3"/>
<line x1="62.60" y1="643.50" x2="210.00" y2="643.50" stroke="#1c1c1c" stroke-width="1.3"/>
<line x1="59.60" y1="632.50" x2="63.20" y2="632.50" stroke="#1c1c1c" stroke-width="1.3"/>
<text x="59.80" y="635.74" font-size="9" font-weight="bold" text-anchor="end" stroke="#111" stroke-width="0.3" >0</text>
<line x1="59.60" y1="611.50" x2="63.20" y2="611.50" stroke="#1c1c1c" stroke-width="1.3"/>
<text x="59.80" y="614.34" font-size="9" font-weight="bold" text-anchor="end" stroke="#111" stroke-width="0.3" >10</text>
<line x1="59.60" y1="589.50" x2="63.20" y2="589.50" stroke="#1c1c1c" stroke-width="1.3"/>
<text x="59.80" y="592.94" font-size="9" font-weight="bold" text-anchor="end" stroke="#111" stroke-width="0.3" >20</text>
<line x1="59.60" y1="568.50" x2="63.20" y2="568.50" stroke="#1c1c1c" stroke-width="1.3"/>
<text x="59.80" y="571.54" font-size="9" font-weight="bold" text-anchor="end" stroke="#111" stroke-width="0.3" >30</text>
<line x1="59.60" y1="546.50" x2="63.20" y2="546.50" stroke="#1c1c1c" stroke-width="1.3"/>
<text x="59.80" y="550.14" font-size="9" font-weight="bold" text-anchor="end" stroke="#111" stroke-width="0.3" >40</text>
<line x1="100.50" y1="643.80" x2="100.50" y2="647.80" stroke="#1c1c1c" stroke-width="1.3"/>
<text x="100.20" y="655.00" font-size="8.3" font-weight="bold" text-anchor="middle" stroke="#111" stroke-width="0.3" >Vehicle</text>
<line x1="173.50" y1="643.80" x2="173.50" y2="647.80" stroke="#1c1c1c" stroke-width="1.3"/>
<text x="173.40" y="655.00" font-size="8.3" font-weight="bold" text-anchor="middle" stroke="#111" stroke-width="0.3" >Radium-223</text>
<line x1="100.50" y1="570.00" x2="100.50" y2="610.60" stroke="#1c1c1c" stroke-width="1.3"/>
<line x1="87.00" y1="570.50" x2="113.00" y2="570.50" stroke="#1c1c1c" stroke-width="1.3"/>
<line x1="100.50" y1="630.30" x2="100.50" y2="632.50" stroke="#1c1c1c" stroke-width="1.3"/>
<line x1="87.00" y1="632.50" x2="113.00" y2="632.50" stroke="#1c1c1c" stroke-width="1.3"/>
<rect x="75.50" y="610.50" width="49.00" height="20.00" fill="#ffffff" stroke="#1c1c1c" stroke-width="1.3"/>
<line x1="75.50" y1="621.50" x2="124.80" y2="621.50" stroke="#1c1c1c" stroke-width="1.3"/>
<line x1="94.20" y1="617.50" x2="106.20" y2="617.50" stroke="#1c1c1c" stroke-width="1.3"/>
<line x1="100.50" y1="611.90" x2="100.50" y2="622.30" stroke="#1c1c1c" stroke-width="1.3"/>
<line x1="173.50" y1="626.90" x2="173.50" y2="629.80" stroke="#1c1c1c" stroke-width="1.3"/>
<line x1="160.40" y1="626.50" x2="186.20" y2="626.50" stroke="#1c1c1c" stroke-width="1.3"/>
<rect x="148.50" y="629.50" width="50.00" height="4.00" fill="#1987f6" stroke="#1c1c1c" stroke-width="1.3"/>
<line x1="148.60" y1="632.50" x2="198.20" y2="632.50" stroke="#1c1c1c" stroke-width="1.3"/>
<line x1="167.40" y1="631.50" x2="179.40" y2="631.50" stroke="#1c1c1c" stroke-width="1.3"/>
<line x1="173.50" y1="626.40" x2="173.50" y2="636.80" stroke="#1c1c1c" stroke-width="1.3"/>
<text x="174.60" y="624.50" font-size="5" font-weight="bold" text-anchor="middle" stroke="#111" stroke-width="0.65" stroke-linejoin="round" letter-spacing="1.6">**</text>
<text transform="translate(35.30,595.00) rotate(-90)" x="0" y="0" font-size="9.25" font-weight="bold" text-anchor="middle" stroke="#111" stroke-width="0.45">Number of osteoblasts</text>
<text transform="translate(46.00,595.00) rotate(-90)" x="0" y="0" font-size="9.45" font-weight="bold" text-anchor="middle" stroke="#111" stroke-width="0.45">relative to bone surface (n/mm)</text>
<text x="296.70" y="530.30" font-size="17" font-weight="bold" text-anchor="start" stroke="#111" stroke-width="0.3" >G</text>
<text x="432.30" y="544.00" font-size="9.45" font-weight="bold" text-anchor="middle" stroke="#111" stroke-width="0.3" >LuCaP 58</text>
<line x1="358.50" y1="546.80" x2="358.50" y2="643.70" stroke="#1c1c1c" stroke-width="1.3"/>
<line x1="357.40" y1="643.50" x2="505.50" y2="643.50" stroke="#1c1c1c" stroke-width="1.3"/>
<line x1="354.40" y1="637.50" x2="358.00" y2="637.50" stroke="#1c1c1c" stroke-width="1.3"/>
<text x="355.30" y="640.54" font-size="9" font-weight="bold" text-anchor="end" stroke="#111" stroke-width="0.3" >0</text>
<line x1="354.40" y1="607.50" x2="358.00" y2="607.50" stroke="#1c1c1c" stroke-width="1.3"/>
<text x="355.30" y="610.37" font-size="9" font-weight="bold" text-anchor="end" stroke="#111" stroke-width="0.3" >5</text>
<line x1="354.40" y1="576.50" x2="358.00" y2="576.50" stroke="#1c1c1c" stroke-width="1.3"/>
<text x="355.30" y="580.21" font-size="9" font-weight="bold" text-anchor="end" stroke="#111" stroke-width="0.3" >10</text>
<line x1="354.40" y1="546.50" x2="358.00" y2="546.50" stroke="#1c1c1c" stroke-width="1.3"/>
<text x="355.30" y="550.04" font-size="9" font-weight="bold" text-anchor="end" stroke="#111" stroke-width="0.3" >15</text>
<line x1="395.50" y1="643.70" x2="395.50" y2="647.70" stroke="#1c1c1c" stroke-width="1.3"/>
<text x="395.80" y="655.60" font-size="8.35" font-weight="bold" text-anchor="middle" stroke="#111" stroke-width="0.3" >Vehicle</text>
<line x1="469.50" y1="643.70" x2="469.50" y2="647.70" stroke="#1c1c1c" stroke-width="1.3"/>
<text x="469.40" y="655.60" font-size="8.35" font-weight="bold" text-anchor="middle" stroke="#111" stroke-width="0.3" >Radium-223</text>
<line x1="395.50" y1="575.20" x2="395.50" y2="585.20" stroke="#1c1c1c" stroke-width="1.3"/>
<line x1="382.80" y1="575.50" x2="408.00" y2="575.50" stroke="#1c1c1c" stroke-width="1.3"/>
<line x1="395.50" y1="598.70" x2="395.50" y2="630.60" stroke="#1c1c1c" stroke-width="1.3"/>
<line x1="382.80" y1="630.50" x2="408.00" y2="630.50" stroke="#1c1c1c" stroke-width="1.3"/>
<rect x="371.50" y="585.50" width="49.00" height="13.00" fill="#ffffff" stroke="#1c1c1c" stroke-width="1.3"/>
<line x1="371.00" y1="596.50" x2="420.20" y2="596.50" stroke="#1c1c1c" stroke-width="1.3"/>
<line x1="389.80" y1="594.50" x2="401.80" y2="594.50" stroke="#1c1c1c" stroke-width="1.3"/>
<line x1="395.50" y1="589.40" x2="395.50" y2="599.80" stroke="#1c1c1c" stroke-width="1.3"/>
<line x1="469.50" y1="574.00" x2="469.50" y2="630.00" stroke="#1c1c1c" stroke-width="1.3"/>
<line x1="456.80" y1="574.50" x2="481.00" y2="574.50" stroke="#1c1c1c" stroke-width="1.3"/>
<line x1="469.50" y1="636.20" x2="469.50" y2="637.40" stroke="#1c1c1c" stroke-width="1.3"/>
<line x1="456.80" y1="637.50" x2="481.00" y2="637.50" stroke="#1c1c1c" stroke-width="1.3"/>
<rect x="444.50" y="630.50" width="49.00" height="6.00" fill="#1987f6" stroke="#1c1c1c" stroke-width="1.3"/>
<line x1="444.20" y1="633.50" x2="493.40" y2="633.50" stroke="#1c1c1c" stroke-width="1.3"/>
<line x1="463.40" y1="628.50" x2="475.40" y2="628.50" stroke="#1c1c1c" stroke-width="1.3"/>
<line x1="469.50" y1="622.80" x2="469.50" y2="633.20" stroke="#1c1c1c" stroke-width="1.3"/>
<text x="470.60" y="572.50" font-size="5" font-weight="bold" text-anchor="middle" stroke="#111" stroke-width="0.65" stroke-linejoin="round" letter-spacing="1.6">**</text>
<text transform="translate(332.70,593.60) rotate(-90)" x="0" y="0" font-size="9.25" font-weight="bold" text-anchor="middle" stroke="#111" stroke-width="0.45">Number of osteoblasts</text>
<text transform="translate(343.20,593.60) rotate(-90)" x="0" y="0" font-size="9.25" font-weight="bold" text-anchor="middle" stroke="#111" stroke-width="0.45">relative to bone surface (n/mm)</text>
<text x="9.00" y="696.50" font-size="17" font-weight="bold" text-anchor="start" stroke="#111" stroke-width="0.3" >H</text>
<text x="150.65" y="711.20" font-size="10.3" font-weight="bold" text-anchor="middle" stroke="#111" stroke-width="0.3" >LNCaP</text>
<line x1="68.50" y1="715.00" x2="68.50" y2="824.00" stroke="#1c1c1c" stroke-width="1.3"/>
<line x1="67.60" y1="824.50" x2="232.50" y2="824.50" stroke="#1c1c1c" stroke-width="1.3"/>
<line x1="64.60" y1="808.50" x2="68.20" y2="808.50" stroke="#1c1c1c" stroke-width="1.3"/>
<text x="64.60" y="811.81" font-size="9.2" font-weight="bold" text-anchor="end" stroke="#111" stroke-width="0.3" >0</text>
<line x1="64.60" y1="777.50" x2="68.20" y2="777.50" stroke="#1c1c1c" stroke-width="1.3"/>
<text x="64.60" y="780.65" font-size="9.2" font-weight="bold" text-anchor="end" stroke="#111" stroke-width="0.3" >1</text>
<line x1="64.60" y1="746.50" x2="68.20" y2="746.50" stroke="#1c1c1c" stroke-width="1.3"/>
<text x="64.60" y="749.48" font-size="9.2" font-weight="bold" text-anchor="end" stroke="#111" stroke-width="0.3" >2</text>
<line x1="64.60" y1="715.50" x2="68.20" y2="715.50" stroke="#1c1c1c" stroke-width="1.3"/>
<text x="64.60" y="718.31" font-size="9.2" font-weight="bold" text-anchor="end" stroke="#111" stroke-width="0.3" >3</text>
<line x1="110.50" y1="824.00" x2="110.50" y2="828.00" stroke="#1c1c1c" stroke-width="1.3"/>
<text x="110.00" y="836.80" font-size="9.05" font-weight="bold" text-anchor="middle" stroke="#111" stroke-width="0.3" >Vehicle</text>
<line x1="191.50" y1="824.00" x2="191.50" y2="828.00" stroke="#1c1c1c" stroke-width="1.3"/>
<text x="191.80" y="836.80" font-size="9.05" font-weight="bold" text-anchor="middle" stroke="#111" stroke-width="0.3" >Radium-223</text>
<line x1="110.50" y1="719.00" x2="110.50" y2="743.50" stroke="#1c1c1c" stroke-width="1.3"/>
<line x1="95.50" y1="719.50" x2="123.60" y2="719.50" stroke="#1c1c1c" stroke-width="1.3"/>
<rect x="82.50" y="743.50" width="54.00" height="65.00" fill="#ffffff" stroke="#1c1c1c" stroke-width="1.3"/>
<line x1="82.20" y1="775.50" x2="136.70" y2="775.50" stroke="#1c1c1c" stroke-width="1.3"/>
<line x1="104.00" y1="773.50" x2="116.00" y2="773.50" stroke="#1c1c1c" stroke-width="1.3"/>
<line x1="110.50" y1="767.80" x2="110.50" y2="778.20" stroke="#1c1c1c" stroke-width="1.3"/>
<line x1="191.50" y1="780.00" x2="191.50" y2="808.50" stroke="#1c1c1c" stroke-width="1.3"/>
<line x1="177.90" y1="780.50" x2="206.00" y2="780.50" stroke="#1c1c1c" stroke-width="1.3"/>
<line x1="164.20" y1="808.50" x2="219.30" y2="808.50" stroke="#1c1c1c" stroke-width="1.3"/>
<line x1="185.80" y1="804.50" x2="197.80" y2="804.50" stroke="#1c1c1c" stroke-width="1.3"/>
<line x1="191.50" y1="799.20" x2="191.50" y2="809.60" stroke="#1c1c1c" stroke-width="1.3"/>
<text x="193.00" y="776.00" font-size="5" font-weight="bold" text-anchor="middle" stroke="#111" stroke-width="0.65" stroke-linejoin="round" letter-spacing="1.6">*</text>
<text transform="translate(37.20,768.20) rotate(-90)" x="0" y="0" font-size="10.45" font-weight="bold" text-anchor="middle" stroke="#111" stroke-width="0.45">Number of osteoclasts</text>
<text transform="translate(48.80,771.00) rotate(-90)" x="0" y="0" font-size="10.5" font-weight="bold" text-anchor="middle" stroke="#111" stroke-width="0.45">relative to TBI length (n/mm)</text>
<text x="305.80" y="695.80" font-size="17" font-weight="bold" text-anchor="start" stroke="#111" stroke-width="0.3" >I</text>
<text x="438.20" y="711.20" font-size="10.0" font-weight="bold" text-anchor="middle" stroke="#111" stroke-width="0.3" >LuCaP 58</text>
<line x1="358.50" y1="713.90" x2="358.50" y2="819.80" stroke="#1c1c1c" stroke-width="1.3"/>
<line x1="358.10" y1="819.50" x2="518.00" y2="819.50" stroke="#1c1c1c" stroke-width="1.3"/>
<line x1="355.10" y1="813.50" x2="358.70" y2="813.50" stroke="#1c1c1c" stroke-width="1.3"/>
<text x="354.30" y="817.08" font-size="9.1" font-weight="bold" text-anchor="end" stroke="#111" stroke-width="0.3" >0</text>
<line x1="355.10" y1="780.50" x2="358.70" y2="780.50" stroke="#1c1c1c" stroke-width="1.3"/>
<text x="354.30" y="783.78" font-size="9.1" font-weight="bold" text-anchor="end" stroke="#111" stroke-width="0.3" >5</text>
<line x1="355.10" y1="747.50" x2="358.70" y2="747.50" stroke="#1c1c1c" stroke-width="1.3"/>
<text x="354.30" y="750.48" font-size="9.1" font-weight="bold" text-anchor="end" stroke="#111" stroke-width="0.3" >10</text>
<line x1="355.10" y1="713.50" x2="358.70" y2="713.50" stroke="#1c1c1c" stroke-width="1.3"/>
<text x="354.30" y="717.18" font-size="9.1" font-weight="bold" text-anchor="end" stroke="#111" stroke-width="0.3" >15</text>
<line x1="398.50" y1="819.80" x2="398.50" y2="823.80" stroke="#1c1c1c" stroke-width="1.3"/>
<text x="398.30" y="832.30" font-size="8.9" font-weight="bold" text-anchor="middle" stroke="#111" stroke-width="0.3" >Vehicle</text>
<line x1="478.50" y1="819.80" x2="478.50" y2="823.80" stroke="#1c1c1c" stroke-width="1.3"/>
<text x="478.20" y="832.30" font-size="8.9" font-weight="bold" text-anchor="middle" stroke="#111" stroke-width="0.3" >Radium-223</text>
<line x1="398.50" y1="779.10" x2="398.50" y2="785.60" stroke="#1c1c1c" stroke-width="1.3"/>
<line x1="384.90" y1="779.50" x2="412.00" y2="779.50" stroke="#1c1c1c" stroke-width="1.3"/>
<line x1="398.50" y1="804.60" x2="398.50" y2="808.80" stroke="#1c1c1c" stroke-width="1.3"/>
<line x1="384.90" y1="808.50" x2="412.00" y2="808.50" stroke="#1c1c1c" stroke-width="1.3"/>
<rect x="371.50" y="785.50" width="54.00" height="19.00" fill="#ffffff" stroke="#1c1c1c" stroke-width="1.3"/>
<line x1="371.10" y1="798.50" x2="425.40" y2="798.50" stroke="#1c1c1c" stroke-width="1.3"/>
<line x1="392.30" y1="796.50" x2="404.30" y2="796.50" stroke="#1c1c1c" stroke-width="1.3"/>
<line x1="398.50" y1="791.20" x2="398.50" y2="801.60" stroke="#1c1c1c" stroke-width="1.3"/>
<line x1="478.50" y1="743.10" x2="478.50" y2="762.10" stroke="#1c1c1c" stroke-width="1.3"/>
<line x1="465.00" y1="743.50" x2="492.00" y2="743.50" stroke="#1c1c1c" stroke-width="1.3"/>
<line x1="478.50" y1="800.10" x2="478.50" y2="813.50" stroke="#1c1c1c" stroke-width="1.3"/>
<line x1="465.00" y1="813.50" x2="492.00" y2="813.50" stroke="#1c1c1c" stroke-width="1.3"/>
<rect x="451.50" y="762.50" width="54.00" height="38.00" fill="#1987f6" stroke="#1c1c1c" stroke-width="1.3"/>
<line x1="451.80" y1="789.50" x2="505.10" y2="789.50" stroke="#1c1c1c" stroke-width="1.3"/>
<line x1="472.20" y1="783.50" x2="484.20" y2="783.50" stroke="#1c1c1c" stroke-width="1.3"/>
<line x1="478.50" y1="778.70" x2="478.50" y2="789.10" stroke="#1c1c1c" stroke-width="1.3"/>
<text x="478.20" y="736.70" font-size="10" font-weight="normal" text-anchor="middle" stroke="#111" stroke-width="0.3" >ns</text>
<text transform="translate(327.60,766.50) rotate(-90)" x="0" y="0" font-size="10.1" font-weight="bold" text-anchor="middle" stroke="#111" stroke-width="0.45">Number of osteoclasts</text>
<text transform="translate(339.00,766.50) rotate(-90)" x="0" y="0" font-size="10.1" font-weight="bold" text-anchor="middle" stroke="#111" stroke-width="0.45">relative to TBI length (n/mm)</text>
</g></svg>
</body></html>
